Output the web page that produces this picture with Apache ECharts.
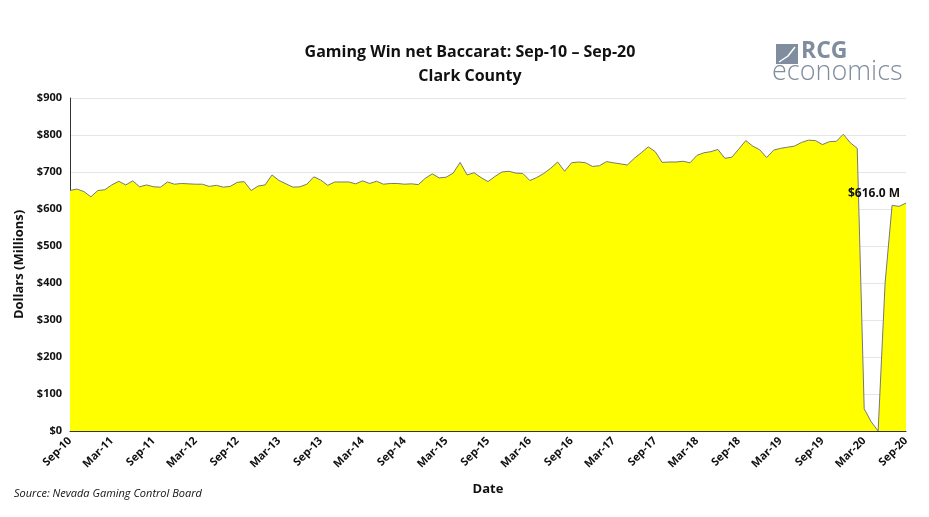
<!DOCTYPE html><html><head><meta charset="utf-8"><script src="https://cdn.jsdelivr.net/npm/echarts@6/dist/echarts.min.js"></script></head><body style="margin:0"><div id="c" style="width:929px;height:517px"></div><script>
const months=['Jan','Feb','Mar','Apr','May','Jun','Jul','Aug','Sep','Oct','Nov','Dec'];
const categories=[];for(let i=0;i<121;i++){const m=(8+i)%12,y=10+Math.floor((8+i)/12);categories.push(months[m]+'-'+y);}
const values=[650,654,647,633,650,652,665,675,665,676,660,665,660,659,673,667,669,668,667,667,661,664,659,661,672,674,650,662,665,692,677,668,659,660,667,687,678,664,673,673,673,668,676,669,675,667,669,669,667,668,666,683,695,684,686,697,726,692,698,685,674,688,700,702,697,696,677,685,696,710,727,702,725,727,725,715,717,728,725,722,719,737,752,768,755,726,727,727,729,725,745,752,755,761,737,740,762,785,770,760,739,759,764,767,770,780,786,785,774,782,783,802,779,764,60,25,0,400,610,607,616];
const yTicks=[0,100,200,300,400,500,600,700,800,900];
const F='"Open Sans"';
const ch=echarts.init(document.getElementById('c'));
ch.setOption({animation:false,
title:{text:'Gaming Win net Baccarat: Sep-10 – Sep-20\nClark County',left:465,top:35,textAlign:'center',textStyle:{fontFamily:F,fontSize:16,fontWeight:'bold',color:'#111',lineHeight:24}},
graphic:[{type:'rect',shape:{x:776,y:44,width:22,height:20},style:{fill:'#7f8d9e'}},
{type:'polyline',shape:{points:[[779,62],[788,56],[795,47]]},style:{stroke:'#fff',lineWidth:1.5,fill:null}},
{type:'text',left:801,top:40,style:{text:'RCG',font:'bold 23px "Open Sans"',fill:'#7f8d9e'}},
{type:'text',left:772,top:59,style:{text:'economics',font:'300 27px "Open Sans"',fill:'#7f8d9e'}},
{type:'text',left:14,top:488,style:{text:'Source: Nevada Gaming Control Board',font:'italic 11px "Open Sans"',fill:'#111'}}],
grid:{left:70,right:23,top:98,bottom:86},
xAxis:{type:'category',data:categories,boundaryGap:false,name:'Date',nameLocation:'middle',nameGap:52,nameTextStyle:{fontFamily:F,fontWeight:'bold',fontSize:13,color:'#111'},
axisLine:{lineStyle:{color:'#333'}},axisTick:{show:false},axisLabel:{interval:5,rotate:45,fontFamily:F,fontWeight:'bold',fontSize:11,color:'#111'}},
yAxis:{type:'value',min:0,max:900,interval:100,name:'Dollars (Millions)',nameLocation:'middle',nameGap:40,nameTextStyle:{fontFamily:F,fontWeight:'bold',fontSize:13,color:'#111'},
axisLine:{show:true,lineStyle:{color:'#333'}},splitLine:{lineStyle:{color:'#e6e6e6'}},axisLabel:{fontFamily:F,fontWeight:'bold',fontSize:11,color:'#111',formatter:v=>yTicks.includes(v)?'$'+v:''}},
series:[{type:'line',data:values,symbol:'none',lineStyle:{color:'#777',width:1},areaStyle:{color:'#ffff00',opacity:1},
markPoint:{symbol:'circle',symbolSize:0,data:[{coord:[120,616],value:616}],label:{show:true,formatter:'$616.0 M',position:[-58,-16],fontFamily:F,fontWeight:'bold',fontSize:12,color:'#111'}}}]
});
</script></body></html>
